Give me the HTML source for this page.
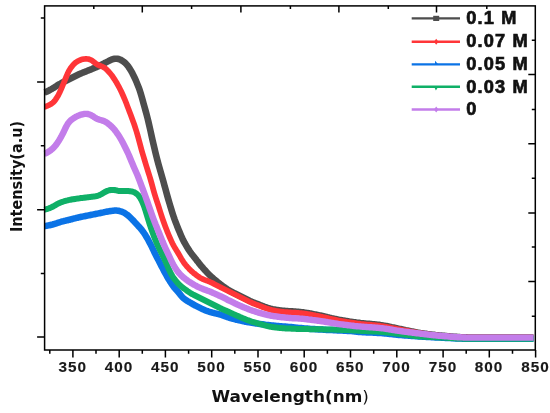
<!DOCTYPE html>
<html lang="en"><head><meta charset="utf-8"><title>Wavelength vs Intensity</title>
<style>html,body{margin:0;padding:0;background:#fff;}svg{display:block;}</style></head>
<body>
<svg width="550" height="413" viewBox="0 0 550 413">
<rect width="550" height="413" fill="#fff"/>
<g fill="none" stroke-linejoin="round" stroke-linecap="butt" stroke-width="6.4">
<path d="M44.5,92.4 L45.5,92.1 L46.5,91.7 L47.5,91.2 L48.5,90.7 L49.5,90.2 L50.5,89.6 L51.5,89.1 L52.5,88.5 L53.5,87.9 L54.5,87.3 L55.5,86.6 L56.5,86.0 L57.5,85.3 L58.5,84.7 L59.5,84.1 L60.5,83.6 L61.5,83.0 L62.5,82.5 L63.5,82.0 L64.5,81.5 L65.5,81.0 L66.5,80.5 L67.5,80.0 L68.5,79.5 L69.5,79.0 L70.5,78.5 L71.5,78.0 L72.5,77.5 L73.5,77.0 L74.5,76.5 L75.5,76.0 L76.5,75.5 L77.5,75.0 L78.5,74.5 L79.5,74.0 L80.5,73.6 L81.5,73.2 L82.5,72.8 L83.5,72.4 L84.5,72.0 L85.5,71.6 L86.5,71.2 L87.5,70.8 L88.5,70.4 L89.5,70.0 L90.5,69.6 L91.5,69.2 L92.5,68.8 L93.5,68.3 L94.5,67.9 L95.5,67.5 L96.5,67.1 L97.5,66.6 L98.5,66.2 L99.5,65.7 L100.5,65.2 L101.5,64.7 L102.5,64.2 L103.5,63.7 L104.5,63.2 L105.5,62.6 L106.5,62.1 L107.5,61.6 L108.5,61.1 L109.5,60.5 L110.5,60.1 L111.5,59.6 L112.5,59.2 L113.5,59.0 L114.5,58.8 L115.5,58.7 L116.5,58.7 L117.5,58.8 L118.5,59.0 L119.5,59.3 L120.5,59.7 L121.5,60.3 L122.5,60.9 L123.5,61.6 L124.5,62.4 L125.5,63.3 L126.5,64.4 L127.5,65.5 L128.5,66.8 L129.5,68.3 L130.5,69.9 L131.5,71.6 L132.5,73.4 L133.5,75.4 L134.5,77.5 L135.5,79.7 L136.5,82.0 L137.5,84.4 L138.5,86.9 L139.5,89.7 L140.5,92.7 L141.5,96.1 L142.5,99.7 L143.5,103.3 L144.5,106.9 L145.5,110.5 L146.5,114.2 L147.5,118.0 L148.5,122.1 L149.5,126.4 L150.5,130.9 L151.5,135.5 L152.5,140.0 L153.5,144.3 L154.5,148.6 L155.5,152.8 L156.5,156.8 L157.5,160.6 L158.5,164.3 L159.5,167.9 L160.5,171.4 L161.5,174.9 L162.5,178.4 L163.5,181.9 L164.5,185.6 L165.5,189.2 L166.5,192.9 L167.5,196.5 L168.5,200.0 L169.5,203.4 L170.5,206.7 L171.5,210.0 L172.5,213.2 L173.5,216.2 L174.5,219.1 L175.5,221.8 L176.5,224.4 L177.5,226.9 L178.5,229.4 L179.5,231.8 L180.5,234.2 L181.5,236.5 L182.5,238.7 L183.5,240.7 L184.5,242.7 L185.5,244.4 L186.5,246.1 L187.5,247.8 L188.5,249.4 L189.5,250.9 L190.5,252.3 L191.5,253.7 L192.5,255.0 L193.5,256.2 L194.5,257.5 L195.5,258.8 L196.5,260.1 L197.5,261.3 L198.5,262.6 L199.5,263.9 L200.5,265.1 L201.5,266.3 L202.5,267.4 L203.5,268.6 L204.5,269.7 L205.5,270.8 L206.5,271.9 L207.5,273.0 L208.5,274.0 L209.5,275.0 L210.5,276.0 L211.5,276.9 L212.5,277.8 L213.5,278.7 L214.5,279.6 L215.5,280.4 L216.5,281.2 L217.5,282.0 L218.5,282.8 L219.5,283.6 L220.5,284.4 L221.5,285.1 L222.5,285.9 L223.5,286.6 L224.5,287.3 L225.5,288.1 L226.5,288.7 L227.5,289.4 L228.5,290.1 L229.5,290.7 L230.5,291.3 L231.5,291.8 L232.5,292.3 L233.5,292.9 L234.5,293.3 L235.5,293.8 L236.5,294.3 L237.5,294.8 L238.5,295.3 L239.5,295.8 L240.5,296.3 L241.5,296.8 L242.5,297.3 L243.5,297.8 L244.5,298.3 L245.5,298.8 L246.5,299.3 L247.5,299.8 L248.5,300.3 L249.5,300.8 L250.5,301.2 L251.5,301.6 L252.5,302.1 L253.5,302.5 L254.5,302.9 L255.5,303.3 L256.5,303.7 L257.5,304.0 L258.5,304.4 L259.5,304.8 L260.5,305.2 L261.5,305.6 L262.5,306.0 L263.5,306.4 L264.5,306.8 L265.5,307.1 L266.5,307.5 L267.5,307.8 L268.5,308.1 L269.5,308.4 L270.5,308.7 L271.5,308.9 L272.5,309.2 L273.5,309.4 L274.5,309.6 L275.5,309.8 L276.5,310.0 L277.5,310.1 L278.5,310.3 L279.5,310.4 L280.5,310.5 L281.5,310.6 L282.5,310.7 L283.5,310.8 L284.5,310.9 L285.5,311.0 L286.5,311.1 L287.5,311.1 L288.5,311.2 L289.5,311.2 L290.5,311.3 L291.5,311.4 L292.5,311.4 L293.5,311.5 L294.5,311.5 L295.5,311.6 L296.5,311.7 L297.5,311.8 L298.5,311.9 L299.5,312.0 L300.5,312.1 L301.5,312.2 L302.5,312.3 L303.5,312.4 L304.5,312.6 L305.5,312.7 L306.5,312.9 L307.5,313.1 L308.5,313.3 L309.5,313.4 L310.5,313.6 L311.5,313.8 L312.5,314.0 L313.5,314.2 L314.5,314.4 L315.5,314.6 L316.5,314.8 L317.5,315.0 L318.5,315.2 L319.5,315.4 L320.5,315.6 L321.5,315.8 L322.5,316.0 L323.5,316.3 L324.5,316.5 L325.5,316.7 L326.5,316.9 L327.5,317.2 L328.5,317.4 L329.5,317.7 L330.5,317.9 L331.5,318.2 L332.5,318.4 L333.5,318.6 L334.5,318.9 L335.5,319.1 L336.5,319.3 L337.5,319.5 L338.5,319.7 L339.5,319.9 L340.5,320.1 L341.5,320.3 L342.5,320.4 L343.5,320.6 L344.5,320.8 L345.5,320.9 L346.5,321.1 L347.5,321.3 L348.5,321.4 L349.5,321.6 L350.5,321.7 L351.5,321.9 L352.5,322.0 L353.5,322.2 L354.5,322.3 L355.5,322.4 L356.5,322.6 L357.5,322.7 L358.5,322.8 L359.5,322.9 L360.5,323.1 L361.5,323.2 L362.5,323.3 L363.5,323.4 L364.5,323.5 L365.5,323.6 L366.5,323.7 L367.5,323.7 L368.5,323.8 L369.5,323.9 L370.5,324.0 L371.5,324.1 L372.5,324.2 L373.5,324.3 L374.5,324.4 L375.5,324.5 L376.5,324.6 L377.5,324.7 L378.5,324.8 L379.5,324.9 L380.5,325.1 L381.5,325.2 L382.5,325.4 L383.5,325.6 L384.5,325.7 L385.5,325.9 L386.5,326.1 L387.5,326.3 L388.5,326.5 L389.5,326.7 L390.5,326.9 L391.5,327.2 L392.5,327.4 L393.5,327.6 L394.5,327.8 L395.5,328.0 L396.5,328.3 L397.5,328.5 L398.5,328.7 L399.5,328.9 L400.5,329.1 L401.5,329.3 L402.5,329.5 L403.5,329.7 L404.5,329.9 L405.5,330.2 L406.5,330.4 L407.5,330.6 L408.5,330.8 L409.5,331.0 L410.5,331.2 L411.5,331.4 L412.5,331.6 L413.5,331.8 L414.5,332.0 L415.5,332.2 L416.5,332.4 L417.5,332.6 L418.5,332.7 L419.5,332.9 L420.5,333.1 L421.5,333.2 L422.5,333.4 L423.5,333.5 L424.5,333.7 L425.5,333.8 L426.5,333.9 L427.5,334.1 L428.5,334.2 L429.5,334.3 L430.5,334.5 L431.5,334.6 L432.5,334.7 L433.5,334.8 L434.5,334.9 L435.5,335.1 L436.5,335.2 L437.5,335.3 L438.5,335.4 L439.5,335.5 L440.5,335.5 L441.5,335.6 L442.5,335.7 L443.5,335.8 L444.5,335.9 L445.5,336.0 L446.5,336.1 L447.5,336.2 L448.5,336.3 L449.5,336.4 L450.5,336.5 L451.5,336.5 L452.5,336.6 L453.5,336.7 L454.5,336.8 L455.5,336.9 L456.5,336.9 L457.5,337.0 L458.5,337.1 L459.5,337.1 L460.5,337.2 L461.5,337.3 L462.5,337.3 L463.5,337.3 L464.5,337.4 L465.5,337.4 L466.5,337.4 L467.5,337.5 L468.5,337.5 L469.5,337.5 L470.5,337.5 L471.5,337.5 L472.5,337.5 L473.5,337.5 L474.5,337.5 L475.5,337.5 L476.5,337.5 L477.5,337.5 L478.5,337.5 L479.5,337.5 L480.5,337.5 L481.5,337.5 L482.5,337.5 L483.5,337.5 L484.5,337.5 L485.5,337.5 L486.5,337.5 L487.5,337.5 L488.5,337.5 L489.5,337.5 L490.5,337.5 L491.5,337.5 L492.5,337.5 L493.5,337.5 L494.5,337.5 L495.5,337.5 L496.5,337.5 L497.5,337.5 L498.5,337.5 L499.5,337.5 L500.5,337.5 L501.5,337.5 L502.5,337.5 L503.5,337.5 L504.5,337.5 L505.5,337.5 L506.5,337.5 L507.5,337.5 L508.5,337.5 L509.5,337.5 L510.5,337.5 L511.5,337.5 L512.5,337.5 L513.5,337.5 L514.5,337.5 L515.5,337.5 L516.5,337.5 L517.5,337.5 L518.5,337.5 L519.5,337.5 L520.5,337.5 L521.5,337.5 L522.5,337.5 L523.5,337.5 L524.5,337.5 L525.5,337.5 L526.5,337.5 L527.5,337.5 L528.5,337.5 L529.5,337.5 L530.5,337.5 L531.5,337.5 L532.5,337.5 L533.5,337.5" stroke="#4d4d4d" stroke-width="6.6"/>
<path d="M44.5,106.8 L45.5,106.6 L46.5,106.2 L47.5,105.8 L48.5,105.3 L49.5,104.9 L50.5,104.3 L51.5,103.7 L52.5,103.0 L53.5,102.1 L54.5,101.0 L55.5,99.7 L56.5,98.2 L57.5,96.6 L58.5,94.8 L59.5,92.8 L60.5,90.6 L61.5,88.3 L62.5,85.9 L63.5,83.5 L64.5,81.1 L65.5,78.6 L66.5,76.1 L67.5,73.8 L68.5,71.7 L69.5,69.9 L70.5,68.3 L71.5,67.0 L72.5,65.7 L73.5,64.6 L74.5,63.6 L75.5,62.7 L76.5,62.0 L77.5,61.4 L78.5,60.8 L79.5,60.4 L80.5,59.9 L81.5,59.6 L82.5,59.3 L83.5,59.1 L84.5,59.0 L85.5,58.9 L86.5,58.9 L87.5,59.0 L88.5,59.1 L89.5,59.4 L90.5,59.8 L91.5,60.3 L92.5,60.9 L93.5,61.7 L94.5,62.5 L95.5,63.3 L96.5,64.0 L97.5,64.6 L98.5,65.1 L99.5,65.5 L100.5,65.9 L101.5,66.3 L102.5,66.7 L103.5,67.2 L104.5,67.8 L105.5,68.5 L106.5,69.4 L107.5,70.4 L108.5,71.5 L109.5,72.6 L110.5,73.8 L111.5,75.0 L112.5,76.3 L113.5,77.8 L114.5,79.3 L115.5,80.9 L116.5,82.5 L117.5,84.3 L118.5,86.1 L119.5,88.0 L120.5,90.0 L121.5,92.1 L122.5,94.3 L123.5,96.5 L124.5,98.8 L125.5,101.3 L126.5,103.8 L127.5,106.4 L128.5,109.0 L129.5,111.7 L130.5,114.3 L131.5,117.0 L132.5,119.7 L133.5,122.4 L134.5,125.3 L135.5,128.3 L136.5,131.5 L137.5,134.9 L138.5,138.5 L139.5,142.3 L140.5,146.1 L141.5,149.7 L142.5,153.2 L143.5,156.5 L144.5,159.8 L145.5,163.2 L146.5,166.5 L147.5,169.7 L148.5,172.8 L149.5,176.0 L150.5,179.4 L151.5,182.9 L152.5,186.5 L153.5,190.2 L154.5,193.7 L155.5,197.0 L156.5,200.1 L157.5,203.1 L158.5,206.2 L159.5,209.3 L160.5,212.5 L161.5,215.6 L162.5,218.6 L163.5,221.5 L164.5,224.3 L165.5,227.0 L166.5,229.6 L167.5,232.1 L168.5,234.5 L169.5,236.9 L170.5,239.2 L171.5,241.4 L172.5,243.5 L173.5,245.4 L174.5,247.2 L175.5,248.8 L176.5,250.4 L177.5,252.0 L178.5,253.7 L179.5,255.4 L180.5,257.2 L181.5,258.9 L182.5,260.5 L183.5,262.1 L184.5,263.5 L185.5,264.8 L186.5,266.0 L187.5,267.1 L188.5,268.2 L189.5,269.3 L190.5,270.2 L191.5,271.2 L192.5,272.0 L193.5,272.9 L194.5,273.7 L195.5,274.4 L196.5,275.2 L197.5,276.0 L198.5,276.7 L199.5,277.4 L200.5,278.0 L201.5,278.5 L202.5,279.0 L203.5,279.4 L204.5,279.8 L205.5,280.2 L206.5,280.5 L207.5,280.9 L208.5,281.3 L209.5,281.7 L210.5,282.2 L211.5,282.7 L212.5,283.1 L213.5,283.6 L214.5,284.2 L215.5,284.7 L216.5,285.2 L217.5,285.7 L218.5,286.2 L219.5,286.7 L220.5,287.2 L221.5,287.8 L222.5,288.3 L223.5,288.8 L224.5,289.3 L225.5,289.8 L226.5,290.3 L227.5,290.8 L228.5,291.3 L229.5,291.8 L230.5,292.3 L231.5,292.8 L232.5,293.3 L233.5,293.8 L234.5,294.3 L235.5,294.8 L236.5,295.3 L237.5,295.8 L238.5,296.3 L239.5,296.8 L240.5,297.3 L241.5,297.8 L242.5,298.3 L243.5,298.8 L244.5,299.3 L245.5,299.8 L246.5,300.3 L247.5,300.8 L248.5,301.3 L249.5,301.8 L250.5,302.2 L251.5,302.6 L252.5,303.1 L253.5,303.5 L254.5,303.9 L255.5,304.3 L256.5,304.7 L257.5,305.0 L258.5,305.4 L259.5,305.8 L260.5,306.2 L261.5,306.6 L262.5,307.0 L263.5,307.4 L264.5,307.8 L265.5,308.1 L266.5,308.5 L267.5,308.8 L268.5,309.1 L269.5,309.4 L270.5,309.7 L271.5,309.9 L272.5,310.2 L273.5,310.4 L274.5,310.6 L275.5,310.8 L276.5,311.0 L277.5,311.1 L278.5,311.3 L279.5,311.4 L280.5,311.5 L281.5,311.7 L282.5,311.8 L283.5,311.9 L284.5,312.0 L285.5,312.0 L286.5,312.1 L287.5,312.2 L288.5,312.3 L289.5,312.4 L290.5,312.4 L291.5,312.5 L292.5,312.6 L293.5,312.6 L294.5,312.7 L295.5,312.7 L296.5,312.8 L297.5,312.8 L298.5,312.9 L299.5,313.0 L300.5,313.1 L301.5,313.2 L302.5,313.3 L303.5,313.4 L304.5,313.5 L305.5,313.7 L306.5,313.8 L307.5,314.0 L308.5,314.2 L309.5,314.3 L310.5,314.5 L311.5,314.7 L312.5,314.9 L313.5,315.0 L314.5,315.2 L315.5,315.5 L316.5,315.7 L317.5,315.9 L318.5,316.1 L319.5,316.3 L320.5,316.5 L321.5,316.7 L322.5,316.9 L323.5,317.2 L324.5,317.4 L325.5,317.6 L326.5,317.8 L327.5,318.0 L328.5,318.3 L329.5,318.5 L330.5,318.7 L331.5,318.9 L332.5,319.2 L333.5,319.4 L334.5,319.6 L335.5,319.9 L336.5,320.1 L337.5,320.3 L338.5,320.5 L339.5,320.7 L340.5,320.9 L341.5,321.1 L342.5,321.2 L343.5,321.4 L344.5,321.6 L345.5,321.7 L346.5,321.9 L347.5,322.0 L348.5,322.2 L349.5,322.3 L350.5,322.5 L351.5,322.6 L352.5,322.8 L353.5,322.9 L354.5,323.1 L355.5,323.2 L356.5,323.3 L357.5,323.5 L358.5,323.6 L359.5,323.7 L360.5,323.9 L361.5,324.0 L362.5,324.1 L363.5,324.2 L364.5,324.3 L365.5,324.4 L366.5,324.5 L367.5,324.6 L368.5,324.6 L369.5,324.7 L370.5,324.8 L371.5,324.9 L372.5,325.0 L373.5,325.1 L374.5,325.2 L375.5,325.3 L376.5,325.4 L377.5,325.5 L378.5,325.6 L379.5,325.7 L380.5,325.9 L381.5,326.0 L382.5,326.2 L383.5,326.3 L384.5,326.5 L385.5,326.7 L386.5,326.8 L387.5,327.0 L388.5,327.2 L389.5,327.4 L390.5,327.6 L391.5,327.8 L392.5,328.0 L393.5,328.2 L394.5,328.4 L395.5,328.6 L396.5,328.8 L397.5,329.0 L398.5,329.2 L399.5,329.4 L400.5,329.6 L401.5,329.8 L402.5,330.0 L403.5,330.2 L404.5,330.4 L405.5,330.6 L406.5,330.7 L407.5,330.9 L408.5,331.1 L409.5,331.3 L410.5,331.5 L411.5,331.7 L412.5,331.9 L413.5,332.1 L414.5,332.3 L415.5,332.4 L416.5,332.6 L417.5,332.8 L418.5,333.0 L419.5,333.1 L420.5,333.3 L421.5,333.4 L422.5,333.6 L423.5,333.7 L424.5,333.9 L425.5,334.0 L426.5,334.2 L427.5,334.3 L428.5,334.5 L429.5,334.6 L430.5,334.7 L431.5,334.9 L432.5,335.0 L433.5,335.1 L434.5,335.2 L435.5,335.3 L436.5,335.5 L437.5,335.6 L438.5,335.7 L439.5,335.8 L440.5,335.8 L441.5,335.9 L442.5,336.0 L443.5,336.1 L444.5,336.2 L445.5,336.3 L446.5,336.4 L447.5,336.4 L448.5,336.5 L449.5,336.6 L450.5,336.7 L451.5,336.8 L452.5,336.8 L453.5,336.9 L454.5,337.0 L455.5,337.0 L456.5,337.1 L457.5,337.2 L458.5,337.2 L459.5,337.3 L460.5,337.3 L461.5,337.4 L462.5,337.4 L463.5,337.5 L464.5,337.5 L465.5,337.5 L466.5,337.6 L467.5,337.6 L468.5,337.6 L469.5,337.6 L470.5,337.6 L471.5,337.6 L472.5,337.6 L473.5,337.6 L474.5,337.6 L475.5,337.6 L476.5,337.6 L477.5,337.6 L478.5,337.6 L479.5,337.6 L480.5,337.6 L481.5,337.6 L482.5,337.6 L483.5,337.6 L484.5,337.6 L485.5,337.6 L486.5,337.6 L487.5,337.6 L488.5,337.6 L489.5,337.6 L490.5,337.6 L491.5,337.6 L492.5,337.6 L493.5,337.6 L494.5,337.6 L495.5,337.6 L496.5,337.6 L497.5,337.6 L498.5,337.6 L499.5,337.6 L500.5,337.6 L501.5,337.6 L502.5,337.6 L503.5,337.6 L504.5,337.6 L505.5,337.6 L506.5,337.6 L507.5,337.6 L508.5,337.6 L509.5,337.6 L510.5,337.6 L511.5,337.6 L512.5,337.6 L513.5,337.6 L514.5,337.6 L515.5,337.6 L516.5,337.6 L517.5,337.6 L518.5,337.6 L519.5,337.6 L520.5,337.6 L521.5,337.6 L522.5,337.6 L523.5,337.6 L524.5,337.6 L525.5,337.6 L526.5,337.6 L527.5,337.6 L528.5,337.6 L529.5,337.6 L530.5,337.6 L531.5,337.6 L532.5,337.6 L533.5,337.6" stroke="#ff3538" stroke-width="5.7"/>
<path d="M44.5,226.0 L45.5,225.9 L46.5,225.8 L47.5,225.6 L48.5,225.4 L49.5,225.2 L50.5,225.0 L51.5,224.8 L52.5,224.5 L53.5,224.3 L54.5,223.9 L55.5,223.6 L56.5,223.3 L57.5,222.9 L58.5,222.6 L59.5,222.3 L60.5,222.0 L61.5,221.7 L62.5,221.4 L63.5,221.2 L64.5,220.9 L65.5,220.7 L66.5,220.4 L67.5,220.2 L68.5,220.0 L69.5,219.7 L70.5,219.5 L71.5,219.2 L72.5,219.0 L73.5,218.7 L74.5,218.4 L75.5,218.2 L76.5,217.9 L77.5,217.7 L78.5,217.5 L79.5,217.2 L80.5,217.0 L81.5,216.8 L82.5,216.6 L83.5,216.4 L84.5,216.2 L85.5,216.0 L86.5,215.8 L87.5,215.6 L88.5,215.4 L89.5,215.2 L90.5,215.0 L91.5,214.8 L92.5,214.6 L93.5,214.4 L94.5,214.2 L95.5,214.0 L96.5,213.8 L97.5,213.6 L98.5,213.4 L99.5,213.2 L100.5,213.0 L101.5,212.8 L102.5,212.6 L103.5,212.4 L104.5,212.1 L105.5,211.9 L106.5,211.7 L107.5,211.5 L108.5,211.4 L109.5,211.2 L110.5,211.0 L111.5,210.9 L112.5,210.8 L113.5,210.7 L114.5,210.6 L115.5,210.6 L116.5,210.6 L117.5,210.7 L118.5,210.8 L119.5,211.0 L120.5,211.3 L121.5,211.6 L122.5,212.0 L123.5,212.4 L124.5,212.9 L125.5,213.6 L126.5,214.3 L127.5,215.0 L128.5,215.9 L129.5,216.7 L130.5,217.7 L131.5,218.7 L132.5,219.7 L133.5,220.8 L134.5,221.9 L135.5,223.0 L136.5,224.0 L137.5,225.1 L138.5,226.2 L139.5,227.3 L140.5,228.4 L141.5,229.6 L142.5,230.9 L143.5,232.2 L144.5,233.7 L145.5,235.3 L146.5,237.0 L147.5,238.7 L148.5,240.5 L149.5,242.4 L150.5,244.3 L151.5,246.2 L152.5,248.3 L153.5,250.4 L154.5,252.5 L155.5,254.5 L156.5,256.5 L157.5,258.4 L158.5,260.3 L159.5,262.3 L160.5,264.2 L161.5,266.2 L162.5,268.1 L163.5,270.0 L164.5,271.9 L165.5,273.7 L166.5,275.5 L167.5,277.3 L168.5,279.0 L169.5,280.6 L170.5,282.2 L171.5,283.7 L172.5,285.2 L173.5,286.6 L174.5,287.9 L175.5,289.0 L176.5,290.1 L177.5,291.2 L178.5,292.4 L179.5,293.6 L180.5,294.9 L181.5,296.1 L182.5,297.2 L183.5,298.2 L184.5,299.0 L185.5,299.8 L186.5,300.4 L187.5,301.1 L188.5,301.6 L189.5,302.2 L190.5,302.8 L191.5,303.4 L192.5,304.0 L193.5,304.5 L194.5,305.1 L195.5,305.7 L196.5,306.2 L197.5,306.7 L198.5,307.2 L199.5,307.7 L200.5,308.2 L201.5,308.7 L202.5,309.1 L203.5,309.6 L204.5,310.0 L205.5,310.4 L206.5,310.8 L207.5,311.1 L208.5,311.5 L209.5,311.8 L210.5,312.1 L211.5,312.4 L212.5,312.7 L213.5,312.9 L214.5,313.2 L215.5,313.4 L216.5,313.6 L217.5,313.9 L218.5,314.1 L219.5,314.4 L220.5,314.7 L221.5,315.0 L222.5,315.3 L223.5,315.7 L224.5,316.1 L225.5,316.4 L226.5,316.8 L227.5,317.2 L228.5,317.5 L229.5,317.8 L230.5,318.1 L231.5,318.4 L232.5,318.7 L233.5,318.9 L234.5,319.2 L235.5,319.5 L236.5,319.7 L237.5,319.9 L238.5,320.2 L239.5,320.4 L240.5,320.6 L241.5,320.8 L242.5,321.0 L243.5,321.2 L244.5,321.5 L245.5,321.7 L246.5,321.9 L247.5,322.0 L248.5,322.2 L249.5,322.4 L250.5,322.6 L251.5,322.7 L252.5,322.9 L253.5,323.1 L254.5,323.2 L255.5,323.4 L256.5,323.5 L257.5,323.6 L258.5,323.8 L259.5,323.9 L260.5,324.1 L261.5,324.2 L262.5,324.3 L263.5,324.5 L264.5,324.6 L265.5,324.8 L266.5,324.9 L267.5,325.0 L268.5,325.1 L269.5,325.2 L270.5,325.3 L271.5,325.4 L272.5,325.5 L273.5,325.6 L274.5,325.7 L275.5,325.8 L276.5,325.9 L277.5,326.0 L278.5,326.1 L279.5,326.2 L280.5,326.2 L281.5,326.3 L282.5,326.4 L283.5,326.5 L284.5,326.6 L285.5,326.6 L286.5,326.7 L287.5,326.8 L288.5,326.9 L289.5,327.0 L290.5,327.1 L291.5,327.1 L292.5,327.2 L293.5,327.3 L294.5,327.4 L295.5,327.6 L296.5,327.7 L297.5,327.8 L298.5,327.9 L299.5,327.9 L300.5,328.0 L301.5,328.1 L302.5,328.2 L303.5,328.3 L304.5,328.4 L305.5,328.5 L306.5,328.5 L307.5,328.6 L308.5,328.7 L309.5,328.8 L310.5,328.9 L311.5,328.9 L312.5,329.0 L313.5,329.1 L314.5,329.1 L315.5,329.2 L316.5,329.3 L317.5,329.3 L318.5,329.4 L319.5,329.5 L320.5,329.5 L321.5,329.6 L322.5,329.6 L323.5,329.7 L324.5,329.8 L325.5,329.8 L326.5,329.9 L327.5,329.9 L328.5,330.0 L329.5,330.0 L330.5,330.0 L331.5,330.1 L332.5,330.1 L333.5,330.2 L334.5,330.2 L335.5,330.3 L336.5,330.3 L337.5,330.4 L338.5,330.4 L339.5,330.5 L340.5,330.5 L341.5,330.6 L342.5,330.6 L343.5,330.7 L344.5,330.7 L345.5,330.8 L346.5,330.8 L347.5,330.9 L348.5,330.9 L349.5,331.0 L350.5,331.1 L351.5,331.1 L352.5,331.2 L353.5,331.3 L354.5,331.4 L355.5,331.6 L356.5,331.7 L357.5,331.8 L358.5,331.9 L359.5,331.9 L360.5,332.0 L361.5,332.1 L362.5,332.2 L363.5,332.2 L364.5,332.3 L365.5,332.3 L366.5,332.4 L367.5,332.4 L368.5,332.4 L369.5,332.5 L370.5,332.5 L371.5,332.6 L372.5,332.6 L373.5,332.7 L374.5,332.7 L375.5,332.7 L376.5,332.8 L377.5,332.9 L378.5,332.9 L379.5,333.0 L380.5,333.0 L381.5,333.1 L382.5,333.2 L383.5,333.3 L384.5,333.4 L385.5,333.5 L386.5,333.6 L387.5,333.7 L388.5,333.8 L389.5,333.9 L390.5,334.0 L391.5,334.1 L392.5,334.2 L393.5,334.3 L394.5,334.5 L395.5,334.6 L396.5,334.7 L397.5,334.8 L398.5,334.9 L399.5,335.0 L400.5,335.0 L401.5,335.1 L402.5,335.2 L403.5,335.3 L404.5,335.4 L405.5,335.5 L406.5,335.5 L407.5,335.6 L408.5,335.7 L409.5,335.8 L410.5,335.8 L411.5,335.9 L412.5,336.0 L413.5,336.1 L414.5,336.1 L415.5,336.2 L416.5,336.3 L417.5,336.3 L418.5,336.4 L419.5,336.5 L420.5,336.5 L421.5,336.6 L422.5,336.7 L423.5,336.7 L424.5,336.8 L425.5,336.8 L426.5,336.9 L427.5,337.0 L428.5,337.0 L429.5,337.1 L430.5,337.1 L431.5,337.2 L432.5,337.2 L433.5,337.3 L434.5,337.3 L435.5,337.4 L436.5,337.4 L437.5,337.5 L438.5,337.5 L439.5,337.6 L440.5,337.6 L441.5,337.7 L442.5,337.7 L443.5,337.8 L444.5,337.8 L445.5,337.9 L446.5,337.9 L447.5,338.0 L448.5,338.0 L449.5,338.1 L450.5,338.1 L451.5,338.2 L452.5,338.2 L453.5,338.3 L454.5,338.3 L455.5,338.4 L456.5,338.4 L457.5,338.5 L458.5,338.5 L459.5,338.6 L460.5,338.6 L461.5,338.6 L462.5,338.7 L463.5,338.7 L464.5,338.7 L465.5,338.7 L466.5,338.8 L467.5,338.8 L468.5,338.8 L469.5,338.8 L470.5,338.8 L471.5,338.8 L472.5,338.8 L473.5,338.8 L474.5,338.8 L475.5,338.8 L476.5,338.8 L477.5,338.8 L478.5,338.8 L479.5,338.8 L480.5,338.8 L481.5,338.8 L482.5,338.8 L483.5,338.8 L484.5,338.8 L485.5,338.8 L486.5,338.8 L487.5,338.8 L488.5,338.8 L489.5,338.8 L490.5,338.8 L491.5,338.8 L492.5,338.8 L493.5,338.8 L494.5,338.8 L495.5,338.8 L496.5,338.8 L497.5,338.8 L498.5,338.8 L499.5,338.8 L500.5,338.8 L501.5,338.8 L502.5,338.8 L503.5,338.8 L504.5,338.8 L505.5,338.8 L506.5,338.8 L507.5,338.8 L508.5,338.8 L509.5,338.8 L510.5,338.8 L511.5,338.8 L512.5,338.8 L513.5,338.8 L514.5,338.8 L515.5,338.8 L516.5,338.8 L517.5,338.8 L518.5,338.8 L519.5,338.8 L520.5,338.8 L521.5,338.8 L522.5,338.8 L523.5,338.8 L524.5,338.8 L525.5,338.8 L526.5,338.8 L527.5,338.8 L528.5,338.8 L529.5,338.8 L530.5,338.8 L531.5,338.8 L532.5,338.8 L533.5,338.8" stroke="#0b73e6" stroke-width="6.5"/>
<path d="M44.5,209.8 L45.5,209.5 L46.5,209.2 L47.5,208.8 L48.5,208.5 L49.5,208.1 L50.5,207.7 L51.5,207.3 L52.5,206.8 L53.5,206.3 L54.5,205.7 L55.5,205.1 L56.5,204.5 L57.5,203.9 L58.5,203.4 L59.5,203.0 L60.5,202.5 L61.5,202.2 L62.5,201.8 L63.5,201.5 L64.5,201.2 L65.5,200.9 L66.5,200.6 L67.5,200.4 L68.5,200.1 L69.5,199.9 L70.5,199.7 L71.5,199.5 L72.5,199.3 L73.5,199.2 L74.5,199.0 L75.5,198.9 L76.5,198.7 L77.5,198.6 L78.5,198.4 L79.5,198.3 L80.5,198.1 L81.5,198.0 L82.5,197.9 L83.5,197.8 L84.5,197.7 L85.5,197.5 L86.5,197.4 L87.5,197.3 L88.5,197.2 L89.5,197.1 L90.5,196.9 L91.5,196.8 L92.5,196.7 L93.5,196.6 L94.5,196.4 L95.5,196.3 L96.5,196.1 L97.5,195.8 L98.5,195.5 L99.5,195.1 L100.5,194.6 L101.5,194.1 L102.5,193.5 L103.5,192.9 L104.5,192.3 L105.5,191.8 L106.5,191.3 L107.5,190.8 L108.5,190.5 L109.5,190.2 L110.5,190.0 L111.5,189.9 L112.5,189.9 L113.5,189.9 L114.5,190.0 L115.5,190.2 L116.5,190.4 L117.5,190.7 L118.5,190.9 L119.5,191.0 L120.5,191.1 L121.5,191.1 L122.5,191.0 L123.5,191.0 L124.5,190.9 L125.5,190.9 L126.5,191.0 L127.5,191.0 L128.5,191.1 L129.5,191.2 L130.5,191.3 L131.5,191.4 L132.5,191.7 L133.5,192.0 L134.5,192.4 L135.5,193.0 L136.5,193.7 L137.5,194.5 L138.5,195.6 L139.5,196.9 L140.5,198.5 L141.5,200.3 L142.5,202.4 L143.5,204.8 L144.5,207.6 L145.5,210.7 L146.5,213.9 L147.5,217.1 L148.5,220.3 L149.5,223.5 L150.5,226.5 L151.5,229.4 L152.5,232.3 L153.5,235.1 L154.5,237.7 L155.5,240.2 L156.5,242.6 L157.5,244.9 L158.5,247.0 L159.5,249.1 L160.5,251.1 L161.5,253.1 L162.5,255.1 L163.5,257.1 L164.5,259.3 L165.5,261.4 L166.5,263.7 L167.5,266.0 L168.5,268.4 L169.5,270.6 L170.5,272.7 L171.5,274.6 L172.5,276.3 L173.5,277.8 L174.5,279.2 L175.5,280.4 L176.5,281.6 L177.5,282.8 L178.5,283.8 L179.5,284.8 L180.5,285.8 L181.5,286.7 L182.5,287.5 L183.5,288.2 L184.5,288.9 L185.5,289.6 L186.5,290.3 L187.5,291.1 L188.5,291.8 L189.5,292.4 L190.5,293.1 L191.5,293.7 L192.5,294.2 L193.5,294.8 L194.5,295.3 L195.5,295.8 L196.5,296.3 L197.5,296.8 L198.5,297.3 L199.5,297.8 L200.5,298.3 L201.5,298.8 L202.5,299.3 L203.5,299.8 L204.5,300.3 L205.5,300.8 L206.5,301.3 L207.5,301.8 L208.5,302.3 L209.5,302.8 L210.5,303.3 L211.5,303.8 L212.5,304.3 L213.5,304.8 L214.5,305.3 L215.5,305.8 L216.5,306.3 L217.5,306.8 L218.5,307.3 L219.5,307.8 L220.5,308.2 L221.5,308.7 L222.5,309.2 L223.5,309.6 L224.5,310.1 L225.5,310.5 L226.5,310.9 L227.5,311.4 L228.5,311.8 L229.5,312.3 L230.5,312.7 L231.5,313.2 L232.5,313.6 L233.5,314.1 L234.5,314.6 L235.5,315.0 L236.5,315.5 L237.5,315.9 L238.5,316.3 L239.5,316.8 L240.5,317.2 L241.5,317.6 L242.5,318.1 L243.5,318.5 L244.5,318.9 L245.5,319.3 L246.5,319.7 L247.5,320.1 L248.5,320.4 L249.5,320.8 L250.5,321.2 L251.5,321.5 L252.5,321.8 L253.5,322.1 L254.5,322.4 L255.5,322.7 L256.5,323.0 L257.5,323.3 L258.5,323.6 L259.5,323.9 L260.5,324.1 L261.5,324.4 L262.5,324.7 L263.5,325.0 L264.5,325.3 L265.5,325.5 L266.5,325.8 L267.5,326.0 L268.5,326.3 L269.5,326.5 L270.5,326.7 L271.5,326.9 L272.5,327.0 L273.5,327.2 L274.5,327.3 L275.5,327.5 L276.5,327.6 L277.5,327.7 L278.5,327.8 L279.5,327.9 L280.5,328.0 L281.5,328.1 L282.5,328.2 L283.5,328.2 L284.5,328.3 L285.5,328.4 L286.5,328.4 L287.5,328.5 L288.5,328.5 L289.5,328.6 L290.5,328.6 L291.5,328.7 L292.5,328.7 L293.5,328.8 L294.5,328.8 L295.5,328.8 L296.5,328.9 L297.5,328.9 L298.5,329.0 L299.5,329.0 L300.5,329.0 L301.5,329.0 L302.5,329.0 L303.5,329.1 L304.5,329.1 L305.5,329.1 L306.5,329.1 L307.5,329.1 L308.5,329.1 L309.5,329.2 L310.5,329.2 L311.5,329.2 L312.5,329.2 L313.5,329.2 L314.5,329.2 L315.5,329.2 L316.5,329.2 L317.5,329.3 L318.5,329.3 L319.5,329.3 L320.5,329.3 L321.5,329.3 L322.5,329.3 L323.5,329.4 L324.5,329.4 L325.5,329.4 L326.5,329.4 L327.5,329.5 L328.5,329.5 L329.5,329.5 L330.5,329.5 L331.5,329.6 L332.5,329.6 L333.5,329.6 L334.5,329.6 L335.5,329.7 L336.5,329.7 L337.5,329.7 L338.5,329.8 L339.5,329.8 L340.5,329.8 L341.5,329.9 L342.5,329.9 L343.5,329.9 L344.5,330.0 L345.5,330.0 L346.5,330.0 L347.5,330.1 L348.5,330.1 L349.5,330.2 L350.5,330.2 L351.5,330.3 L352.5,330.3 L353.5,330.4 L354.5,330.5 L355.5,330.5 L356.5,330.6 L357.5,330.6 L358.5,330.7 L359.5,330.8 L360.5,330.8 L361.5,330.9 L362.5,330.9 L363.5,331.0 L364.5,331.0 L365.5,331.1 L366.5,331.1 L367.5,331.2 L368.5,331.2 L369.5,331.2 L370.5,331.3 L371.5,331.3 L372.5,331.4 L373.5,331.4 L374.5,331.5 L375.5,331.5 L376.5,331.6 L377.5,331.6 L378.5,331.7 L379.5,331.8 L380.5,331.8 L381.5,331.9 L382.5,332.0 L383.5,332.1 L384.5,332.2 L385.5,332.3 L386.5,332.4 L387.5,332.5 L388.5,332.6 L389.5,332.7 L390.5,332.8 L391.5,333.0 L392.5,333.1 L393.5,333.2 L394.5,333.3 L395.5,333.5 L396.5,333.6 L397.5,333.7 L398.5,333.8 L399.5,333.9 L400.5,334.1 L401.5,334.2 L402.5,334.3 L403.5,334.4 L404.5,334.6 L405.5,334.7 L406.5,334.8 L407.5,335.0 L408.5,335.1 L409.5,335.2 L410.5,335.4 L411.5,335.5 L412.5,335.6 L413.5,335.8 L414.5,335.9 L415.5,336.0 L416.5,336.1 L417.5,336.2 L418.5,336.3 L419.5,336.4 L420.5,336.4 L421.5,336.5 L422.5,336.6 L423.5,336.6 L424.5,336.7 L425.5,336.7 L426.5,336.8 L427.5,336.8 L428.5,336.9 L429.5,336.9 L430.5,337.0 L431.5,337.0 L432.5,337.1 L433.5,337.1 L434.5,337.2 L435.5,337.2 L436.5,337.2 L437.5,337.3 L438.5,337.3 L439.5,337.4 L440.5,337.4 L441.5,337.5 L442.5,337.5 L443.5,337.6 L444.5,337.6 L445.5,337.7 L446.5,337.8 L447.5,337.8 L448.5,337.9 L449.5,337.9 L450.5,338.0 L451.5,338.1 L452.5,338.1 L453.5,338.2 L454.5,338.3 L455.5,338.3 L456.5,338.4 L457.5,338.4 L458.5,338.5 L459.5,338.5 L460.5,338.6 L461.5,338.6 L462.5,338.6 L463.5,338.7 L464.5,338.7 L465.5,338.7 L466.5,338.8 L467.5,338.8 L468.5,338.8 L469.5,338.8 L470.5,338.8 L471.5,338.8 L472.5,338.8 L473.5,338.8 L474.5,338.8 L475.5,338.8 L476.5,338.8 L477.5,338.8 L478.5,338.8 L479.5,338.8 L480.5,338.8 L481.5,338.8 L482.5,338.8 L483.5,338.8 L484.5,338.8 L485.5,338.8 L486.5,338.8 L487.5,338.8 L488.5,338.8 L489.5,338.8 L490.5,338.8 L491.5,338.8 L492.5,338.8 L493.5,338.8 L494.5,338.8 L495.5,338.8 L496.5,338.8 L497.5,338.8 L498.5,338.8 L499.5,338.8 L500.5,338.8 L501.5,338.8 L502.5,338.8 L503.5,338.8 L504.5,338.8 L505.5,338.8 L506.5,338.8 L507.5,338.8 L508.5,338.8 L509.5,338.8 L510.5,338.8 L511.5,338.8 L512.5,338.8 L513.5,338.8 L514.5,338.8 L515.5,338.8 L516.5,338.8 L517.5,338.8 L518.5,338.8 L519.5,338.8 L520.5,338.8 L521.5,338.8 L522.5,338.8 L523.5,338.8 L524.5,338.8 L525.5,338.8 L526.5,338.8 L527.5,338.8 L528.5,338.8 L529.5,338.8 L530.5,338.8 L531.5,338.8 L532.5,338.8 L533.5,338.8" stroke="#0fb067" stroke-width="6.0"/>
<path d="M44.5,153.7 L45.5,153.4 L46.5,152.9 L47.5,152.3 L48.5,151.7 L49.5,151.1 L50.5,150.4 L51.5,149.6 L52.5,148.8 L53.5,147.8 L54.5,146.7 L55.5,145.5 L56.5,144.2 L57.5,142.7 L58.5,141.2 L59.5,139.6 L60.5,137.9 L61.5,136.1 L62.5,134.2 L63.5,132.2 L64.5,130.1 L65.5,128.0 L66.5,126.0 L67.5,124.3 L68.5,122.8 L69.5,121.7 L70.5,120.6 L71.5,119.8 L72.5,119.0 L73.5,118.3 L74.5,117.6 L75.5,117.1 L76.5,116.5 L77.5,116.0 L78.5,115.6 L79.5,115.2 L80.5,114.8 L81.5,114.5 L82.5,114.3 L83.5,114.1 L84.5,113.9 L85.5,113.9 L86.5,113.9 L87.5,114.0 L88.5,114.2 L89.5,114.5 L90.5,114.9 L91.5,115.4 L92.5,116.0 L93.5,116.6 L94.5,117.3 L95.5,118.0 L96.5,118.6 L97.5,119.0 L98.5,119.4 L99.5,119.7 L100.5,120.0 L101.5,120.3 L102.5,120.6 L103.5,120.9 L104.5,121.3 L105.5,121.8 L106.5,122.4 L107.5,123.1 L108.5,123.9 L109.5,124.7 L110.5,125.6 L111.5,126.5 L112.5,127.5 L113.5,128.6 L114.5,129.7 L115.5,131.0 L116.5,132.4 L117.5,133.8 L118.5,135.3 L119.5,136.8 L120.5,138.5 L121.5,140.3 L122.5,142.1 L123.5,144.0 L124.5,146.0 L125.5,148.0 L126.5,150.0 L127.5,152.1 L128.5,154.3 L129.5,156.6 L130.5,159.0 L131.5,161.4 L132.5,163.8 L133.5,166.2 L134.5,168.5 L135.5,170.8 L136.5,173.0 L137.5,175.3 L138.5,177.8 L139.5,180.5 L140.5,183.2 L141.5,185.9 L142.5,188.5 L143.5,191.1 L144.5,193.8 L145.5,196.5 L146.5,199.3 L147.5,202.1 L148.5,205.0 L149.5,207.9 L150.5,210.7 L151.5,213.5 L152.5,216.3 L153.5,219.0 L154.5,221.6 L155.5,224.2 L156.5,226.6 L157.5,229.1 L158.5,231.5 L159.5,234.0 L160.5,236.4 L161.5,238.9 L162.5,241.4 L163.5,243.7 L164.5,246.0 L165.5,248.2 L166.5,250.3 L167.5,252.5 L168.5,254.6 L169.5,256.8 L170.5,259.0 L171.5,261.1 L172.5,263.1 L173.5,265.0 L174.5,266.7 L175.5,268.3 L176.5,269.8 L177.5,271.2 L178.5,272.5 L179.5,273.6 L180.5,274.7 L181.5,275.7 L182.5,276.6 L183.5,277.5 L184.5,278.3 L185.5,279.1 L186.5,279.8 L187.5,280.6 L188.5,281.3 L189.5,282.0 L190.5,282.6 L191.5,283.2 L192.5,283.8 L193.5,284.4 L194.5,285.0 L195.5,285.5 L196.5,286.1 L197.5,286.6 L198.5,287.1 L199.5,287.5 L200.5,288.0 L201.5,288.4 L202.5,288.8 L203.5,289.2 L204.5,289.6 L205.5,289.9 L206.5,290.3 L207.5,290.7 L208.5,291.0 L209.5,291.4 L210.5,291.8 L211.5,292.2 L212.5,292.7 L213.5,293.1 L214.5,293.5 L215.5,294.0 L216.5,294.4 L217.5,294.9 L218.5,295.3 L219.5,295.8 L220.5,296.2 L221.5,296.7 L222.5,297.2 L223.5,297.7 L224.5,298.2 L225.5,298.7 L226.5,299.2 L227.5,299.8 L228.5,300.3 L229.5,300.7 L230.5,301.2 L231.5,301.7 L232.5,302.2 L233.5,302.7 L234.5,303.2 L235.5,303.6 L236.5,304.1 L237.5,304.6 L238.5,305.0 L239.5,305.5 L240.5,305.9 L241.5,306.3 L242.5,306.8 L243.5,307.2 L244.5,307.6 L245.5,308.0 L246.5,308.4 L247.5,308.8 L248.5,309.2 L249.5,309.6 L250.5,310.0 L251.5,310.3 L252.5,310.7 L253.5,311.0 L254.5,311.3 L255.5,311.6 L256.5,312.0 L257.5,312.3 L258.5,312.6 L259.5,312.9 L260.5,313.1 L261.5,313.4 L262.5,313.7 L263.5,314.0 L264.5,314.2 L265.5,314.5 L266.5,314.7 L267.5,315.0 L268.5,315.2 L269.5,315.4 L270.5,315.6 L271.5,315.8 L272.5,315.9 L273.5,316.1 L274.5,316.3 L275.5,316.4 L276.5,316.5 L277.5,316.7 L278.5,316.8 L279.5,316.9 L280.5,317.1 L281.5,317.2 L282.5,317.3 L283.5,317.4 L284.5,317.5 L285.5,317.6 L286.5,317.7 L287.5,317.8 L288.5,317.9 L289.5,318.0 L290.5,318.0 L291.5,318.1 L292.5,318.2 L293.5,318.2 L294.5,318.3 L295.5,318.3 L296.5,318.4 L297.5,318.4 L298.5,318.5 L299.5,318.6 L300.5,318.6 L301.5,318.7 L302.5,318.8 L303.5,318.9 L304.5,319.0 L305.5,319.1 L306.5,319.2 L307.5,319.3 L308.5,319.5 L309.5,319.6 L310.5,319.7 L311.5,319.8 L312.5,320.0 L313.5,320.1 L314.5,320.2 L315.5,320.4 L316.5,320.5 L317.5,320.7 L318.5,320.8 L319.5,320.9 L320.5,321.1 L321.5,321.2 L322.5,321.4 L323.5,321.5 L324.5,321.7 L325.5,321.8 L326.5,322.0 L327.5,322.2 L328.5,322.4 L329.5,322.5 L330.5,322.7 L331.5,322.9 L332.5,323.0 L333.5,323.2 L334.5,323.4 L335.5,323.5 L336.5,323.7 L337.5,323.8 L338.5,324.0 L339.5,324.1 L340.5,324.3 L341.5,324.4 L342.5,324.5 L343.5,324.7 L344.5,324.8 L345.5,324.9 L346.5,325.0 L347.5,325.2 L348.5,325.3 L349.5,325.4 L350.5,325.5 L351.5,325.6 L352.5,325.7 L353.5,325.8 L354.5,326.0 L355.5,326.1 L356.5,326.2 L357.5,326.3 L358.5,326.4 L359.5,326.4 L360.5,326.5 L361.5,326.6 L362.5,326.7 L363.5,326.8 L364.5,326.9 L365.5,326.9 L366.5,327.0 L367.5,327.1 L368.5,327.1 L369.5,327.2 L370.5,327.3 L371.5,327.3 L372.5,327.4 L373.5,327.5 L374.5,327.5 L375.5,327.6 L376.5,327.7 L377.5,327.8 L378.5,327.9 L379.5,328.0 L380.5,328.1 L381.5,328.2 L382.5,328.3 L383.5,328.4 L384.5,328.6 L385.5,328.7 L386.5,328.8 L387.5,329.0 L388.5,329.2 L389.5,329.3 L390.5,329.5 L391.5,329.7 L392.5,329.8 L393.5,330.0 L394.5,330.1 L395.5,330.3 L396.5,330.5 L397.5,330.6 L398.5,330.8 L399.5,330.9 L400.5,331.1 L401.5,331.2 L402.5,331.3 L403.5,331.5 L404.5,331.6 L405.5,331.8 L406.5,331.9 L407.5,332.0 L408.5,332.2 L409.5,332.3 L410.5,332.4 L411.5,332.5 L412.5,332.7 L413.5,332.8 L414.5,332.9 L415.5,333.1 L416.5,333.2 L417.5,333.3 L418.5,333.4 L419.5,333.5 L420.5,333.7 L421.5,333.8 L422.5,333.9 L423.5,334.0 L424.5,334.1 L425.5,334.3 L426.5,334.4 L427.5,334.5 L428.5,334.6 L429.5,334.7 L430.5,334.9 L431.5,335.0 L432.5,335.1 L433.5,335.2 L434.5,335.3 L435.5,335.4 L436.5,335.5 L437.5,335.6 L438.5,335.7 L439.5,335.8 L440.5,335.8 L441.5,335.9 L442.5,336.0 L443.5,336.1 L444.5,336.2 L445.5,336.2 L446.5,336.3 L447.5,336.4 L448.5,336.5 L449.5,336.6 L450.5,336.7 L451.5,336.7 L452.5,336.8 L453.5,336.9 L454.5,337.0 L455.5,337.0 L456.5,337.1 L457.5,337.2 L458.5,337.2 L459.5,337.3 L460.5,337.3 L461.5,337.4 L462.5,337.4 L463.5,337.5 L464.5,337.5 L465.5,337.5 L466.5,337.6 L467.5,337.6 L468.5,337.6 L469.5,337.6 L470.5,337.6 L471.5,337.6 L472.5,337.6 L473.5,337.6 L474.5,337.6 L475.5,337.6 L476.5,337.6 L477.5,337.6 L478.5,337.6 L479.5,337.6 L480.5,337.6 L481.5,337.6 L482.5,337.6 L483.5,337.6 L484.5,337.6 L485.5,337.6 L486.5,337.6 L487.5,337.6 L488.5,337.6 L489.5,337.6 L490.5,337.6 L491.5,337.6 L492.5,337.6 L493.5,337.6 L494.5,337.6 L495.5,337.6 L496.5,337.6 L497.5,337.6 L498.5,337.6 L499.5,337.6 L500.5,337.6 L501.5,337.6 L502.5,337.6 L503.5,337.6 L504.5,337.6 L505.5,337.6 L506.5,337.6 L507.5,337.6 L508.5,337.6 L509.5,337.6 L510.5,337.6 L511.5,337.6 L512.5,337.6 L513.5,337.6 L514.5,337.6 L515.5,337.6 L516.5,337.6 L517.5,337.6 L518.5,337.6 L519.5,337.6 L520.5,337.6 L521.5,337.6 L522.5,337.6 L523.5,337.6 L524.5,337.6 L525.5,337.6 L526.5,337.6 L527.5,337.6 L528.5,337.6 L529.5,337.6 L530.5,337.6 L531.5,337.6 L532.5,337.6 L533.5,337.6" stroke="#c37dea" stroke-width="6.4"/>
</g>
<g stroke="#000" stroke-width="1.5" fill="none" stroke-linecap="butt">
<rect x="44.6" y="5.9" width="490.69999999999993" height="344.1"/>
<path d="M72.9,350.0 v7.5 M119.2,350.0 v7.5 M165.4,350.0 v7.5 M211.7,350.0 v7.5 M258.0,350.0 v7.5 M304.2,350.0 v7.5 M350.5,350.0 v7.5 M396.8,350.0 v7.5 M443.1,350.0 v7.5 M489.3,350.0 v7.5 M535.6,350.0 v7.5 M49.8,350.0 v3.8 M96.0,350.0 v3.8 M142.3,350.0 v3.8 M188.6,350.0 v3.8 M234.8,350.0 v3.8 M281.1,350.0 v3.8 M327.4,350.0 v3.8 M373.7,350.0 v3.8 M419.9,350.0 v3.8 M466.2,350.0 v3.8 M512.5,350.0 v3.8 M93.8,5.9 v3.2 M142.3,5.9 v6.5 M191.6,5.9 v3.2 M240.9,5.9 v6.5 M290.4,5.9 v3.2 M338.9,5.9 v6.5 M388.3,5.9 v3.2 M436.5,5.9 v6.5 M486.8,5.9 v3.2 M44.6,18.1 h-3.8 M44.6,81.9 h-7.5 M44.6,145.8 h-3.8 M44.6,209.8 h-7.5 M44.6,273.4 h-3.8 M44.6,337.1 h-7.5 M535.3,40.3 h-3.5 M535.3,74.5 h-7 M535.3,109.5 h-3.5 M535.3,143.7 h-7 M535.3,178.2 h-3.5 M535.3,212.9 h-7 M535.3,246.9 h-3.5 M535.3,281.4 h-7 M535.3,316.3 h-3.5"/>
</g>
<g font-family="'Liberation Sans', sans-serif" font-weight="bold" font-size="15.3" fill="#1a1a1a" stroke="#1a1a1a" stroke-width="0.15" text-anchor="middle" letter-spacing="1.0">
<text x="72.7" y="372">350</text>
<text x="119.0" y="372">400</text>
<text x="165.2" y="372">450</text>
<text x="211.5" y="372">500</text>
<text x="257.8" y="372">550</text>
<text x="304.1" y="372">600</text>
<text x="350.3" y="372">650</text>
<text x="396.6" y="372">700</text>
<text x="442.9" y="372">750</text>
<text x="489.1" y="372">800</text>
<text x="535.4" y="372">850</text>
</g>
<text x="211.4" y="402.1" font-family="'DejaVu Sans', 'Liberation Sans', sans-serif" font-weight="bold" font-size="16.6" fill="#111" textLength="157.6" lengthAdjust="spacingAndGlyphs">Wavelength(nm<tspan font-weight="normal">)</tspan></text>
<text transform="translate(21.9,232) rotate(-90)" font-family="'DejaVu Sans', 'Liberation Sans', sans-serif" font-weight="bold" font-size="16" fill="#111" textLength="111" lengthAdjust="spacingAndGlyphs">Intensity(a.u)</text>
<g font-family="'Liberation Sans', sans-serif" font-weight="bold" font-size="18.2" fill="#111" letter-spacing="1.15">
<path d="M411.7,18.4 H460" stroke="#4d4d4d" stroke-width="2.4" fill="none"/>
<rect x="433.2" y="15.799999999999999" width="6" height="5.2" fill="#4d4d4d"/>
<text x="466.3" y="24.3" stroke="#111" stroke-width="0.7">0.1 M</text>
<path d="M411.7,41.8 H460" stroke="#ff3538" stroke-width="2.4" fill="none"/>
<path d="M436.2,38.8 L438.4,41.8 L436.2,44.8 L434.0,41.8Z" fill="#ff3538" stroke="none"/>
<text x="466.3" y="46.9" stroke="#111" stroke-width="0.7">0.07 M</text>
<path d="M411.7,64.4 H460" stroke="#0b73e6" stroke-width="2.4" fill="none"/>
<path d="M435.0,60.800000000000004 L438.4,64.4 L435.0,64.4Z" fill="#0b73e6"/>
<text x="466.3" y="69.5" stroke="#111" stroke-width="0.7">0.05 M</text>
<path d="M411.7,86.8 H460" stroke="#0fb067" stroke-width="2.4" fill="none"/>
<path d="M434.2,86.8 L438.2,86.8 L435.9,90.6Z" fill="#0fb067"/>
<text x="466.3" y="92.8" stroke="#111" stroke-width="0.7">0.03 M</text>
<path d="M411.7,109.5 H460" stroke="#c37dea" stroke-width="2.4" fill="none"/>
<path d="M436.2,106.5 L438.4,109.5 L436.2,112.5 L434.0,109.5Z" fill="#c37dea" stroke="none"/>
<text x="466.3" y="115.1" stroke="#111" stroke-width="0.7">0</text>
</g>
</svg>
</body></html>
